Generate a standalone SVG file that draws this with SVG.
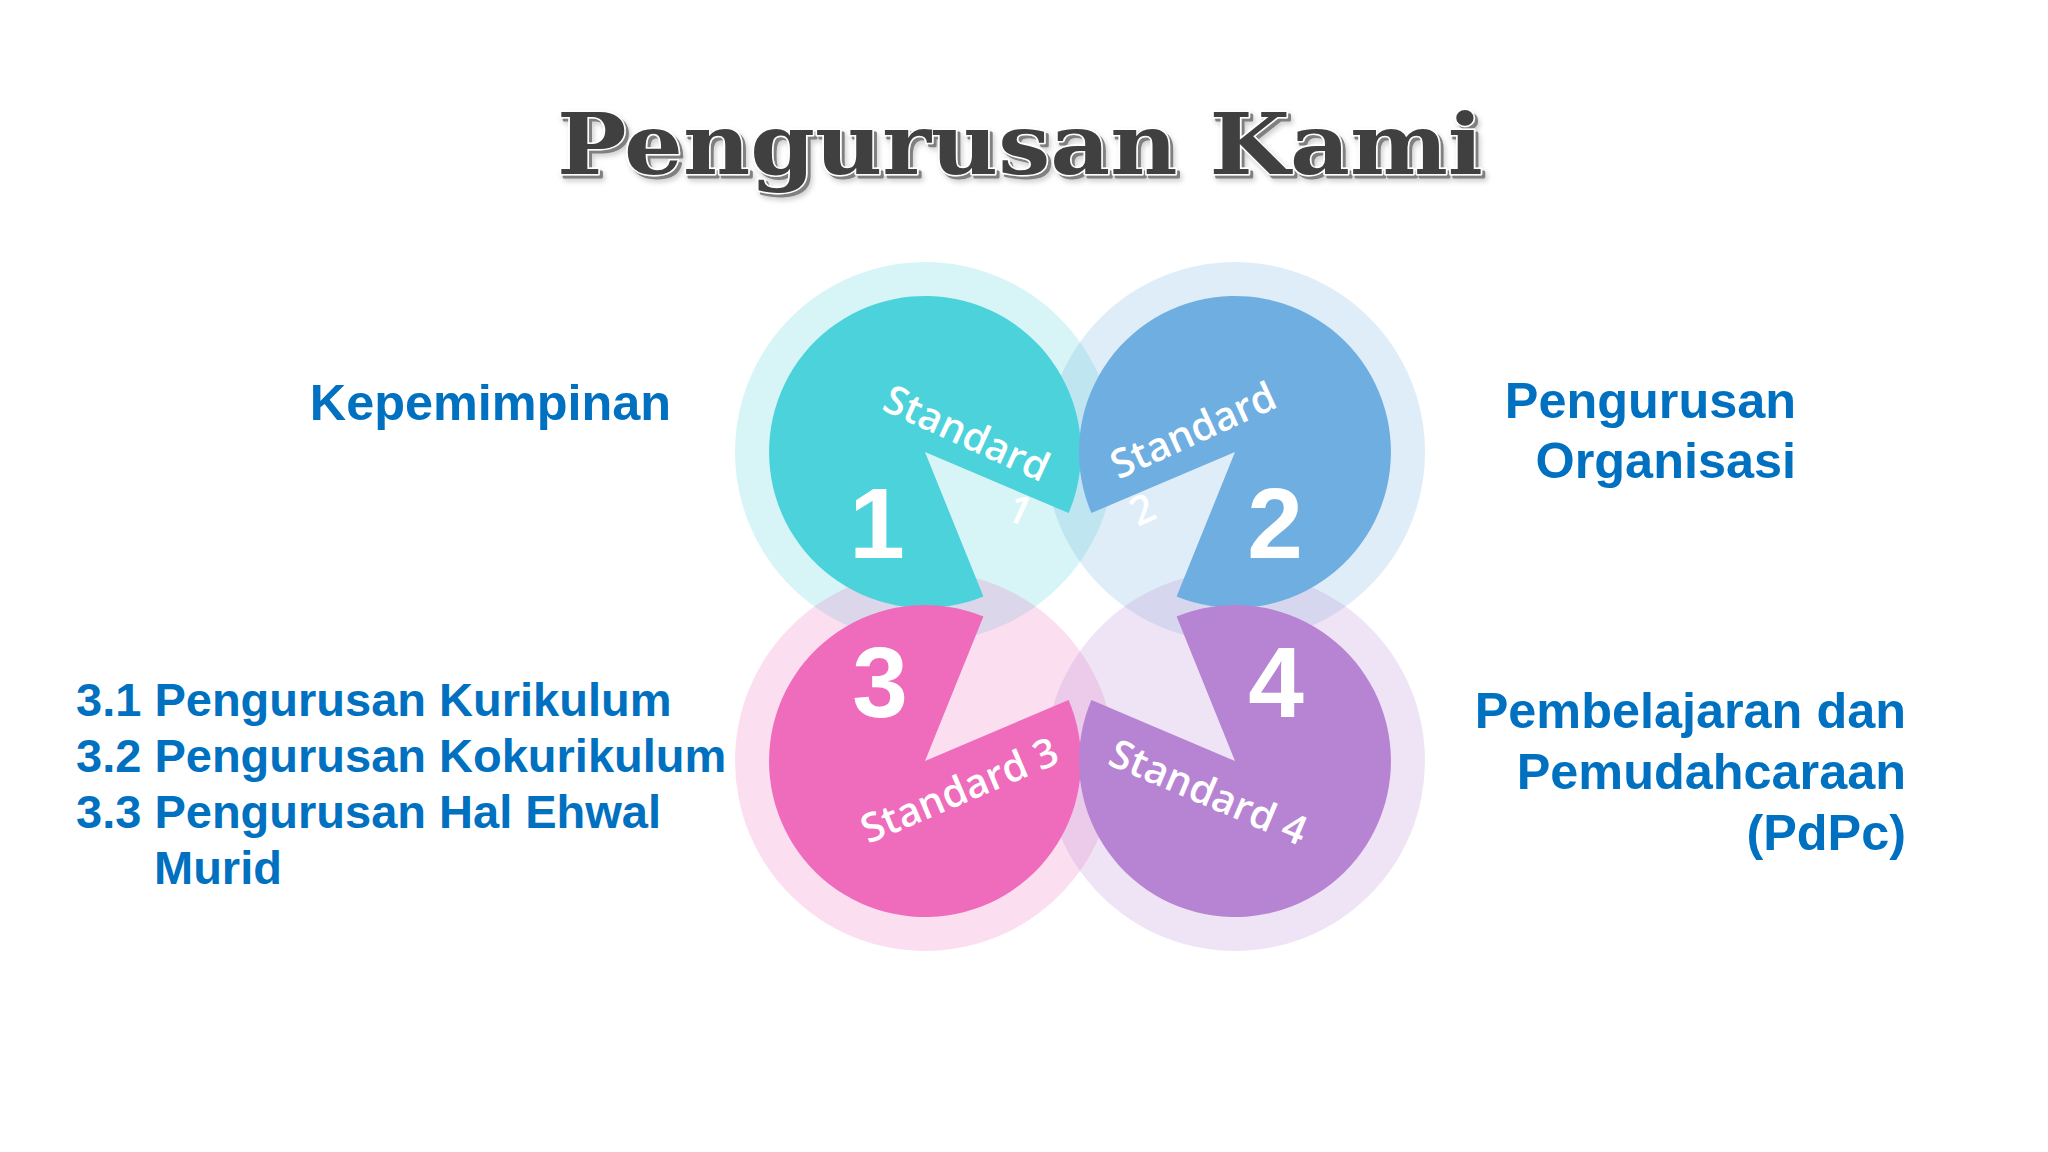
<svg xmlns="http://www.w3.org/2000/svg" width="2048" height="1152" viewBox="0 0 2048 1152">
<defs>
<style>
.title{font-family:"DejaVu Serif","Liberation Serif",serif;font-weight:bold;font-size:84px}
.lbl{font-family:"Liberation Sans",Arial,sans-serif;font-weight:bold;fill:#0070C0}
.big{font-size:50.4px}
.list{font-size:47px}
.num{font-family:"Liberation Sans",Arial,sans-serif;font-weight:bold;font-size:100px;fill:#ffffff;text-anchor:middle}
.std{font-family:"Open Sans","Noto Sans",sans-serif;font-weight:600;font-size:40px;fill:#ffffff;text-anchor:middle}
.halo{fill-opacity:0.22}
</style>
<filter id="tshadow" x="-5%" y="-25%" width="112%" height="160%">
  <feDropShadow dx="3" dy="3" stdDeviation="0.6" flood-color="#808080" flood-opacity="1" result="a"/>
  <feDropShadow in="a" dx="2" dy="3" stdDeviation="2.5" flood-color="#000000" flood-opacity="0.18"/>
</filter>
</defs>
<rect x="0" y="0" width="2048" height="1152" fill="#ffffff"/>

<g id="title">
  <text class="title" x="1020" y="174" text-anchor="middle" textLength="926" lengthAdjust="spacingAndGlyphs" fill="#404040" stroke="#ffffff" stroke-width="3" paint-order="stroke" stroke-linejoin="round" filter="url(#tshadow)">Pengurusan Kami</text>
</g>

<g id="halos">
  <circle class="halo" cx="925" cy="452" r="190" fill="#4BD2DB"/>
  <circle class="halo" cx="1235" cy="452" r="190" fill="#6FAEE0"/>
  <circle class="halo" cx="925" cy="761" r="190" fill="#EF6BBB"/>
  <circle class="halo" cx="1235" cy="761" r="190" fill="#B784D3"/>
</g>

<g id="connectors"></g>

<g id="node-1">
  <path d="M925,452 L983.4,596.6 A156,156 0 1 1 1068.6,513 Z" fill="#4BD2DB"/>
  <text class="num" x="877" y="558">1</text>
  <g transform="translate(961,446) rotate(24.5)">
    <text class="std" x="0" y="0">Standard</text>
    <text class="std" x="80" y="48">1</text>
  </g>
</g>

<g id="node-2">
  <path d="M1235,452 L1091.4,513 A156,156 0 1 1 1176.6,596.6 Z" fill="#6FAEE0"/>
  <text class="num" x="1275" y="558">2</text>
  <g transform="translate(1199,443) rotate(-24.5)">
    <text class="std" x="0" y="0">Standard</text>
    <text class="std" x="-79" y="51">2</text>
  </g>
</g>

<g id="node-3">
  <path d="M925,761 L1068.6,700 A156,156 0 1 1 983.4,616.4 Z" fill="#EF6BBB"/>
  <text class="num" x="880" y="717">3</text>
  <text class="std" transform="translate(965,803) rotate(-23)" x="0" y="0">Standard 3</text>
</g>

<g id="node-4">
  <path d="M1235,761 L1176.6,616.4 A156,156 0 1 1 1091.4,700 Z" fill="#B784D3"/>
  <text class="num" x="1276" y="717">4</text>
  <text class="std" transform="translate(1203,805) rotate(23)" x="0" y="0">Standard 4</text>
</g>

<g id="label-1">
  <text class="lbl big" x="671" y="420" text-anchor="end">Kepemimpinan</text>
</g>

<g id="label-2">
  <text class="lbl big" x="1796" y="418" text-anchor="end">Pengurusan</text>
  <text class="lbl big" x="1796" y="478" text-anchor="end">Organisasi</text>
</g>

<g id="label-3">
  <text class="lbl list" x="76" y="716">3.1 Pengurusan Kurikulum</text>
  <text class="lbl list" x="76" y="772">3.2 Pengurusan Kokurikulum</text>
  <text class="lbl list" x="76" y="828">3.3 Pengurusan Hal Ehwal</text>
  <text class="lbl list" x="154" y="884">Murid</text>
</g>

<g id="label-4">
  <text class="lbl big" x="1906" y="728" text-anchor="end">Pembelajaran dan</text>
  <text class="lbl big" x="1906" y="789" text-anchor="end">Pemudahcaraan</text>
  <text class="lbl big" x="1906" y="850" text-anchor="end">(PdPc)</text>
</g>
</svg>
